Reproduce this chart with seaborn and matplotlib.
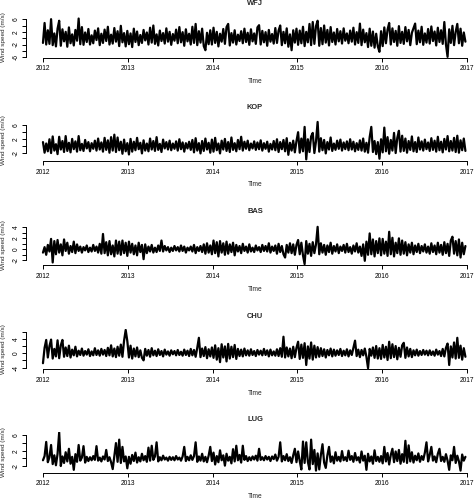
import numpy as np
import pandas as pd
import matplotlib
matplotlib.use("Agg")
import matplotlib.pyplot as plt
import seaborn as sns

# ── Styling ─────────────────────────────────
sns.set_style("ticks")
plt.rcParams.update({
    "font.family": ["Liberation Sans", "DejaVu Sans"],
    "font.size": 4.6,
    "axes.linewidth": 0.7,
    "xtick.major.width": 0.7,
    "ytick.major.width": 0.7,
    "xtick.major.size": 2.6,
    "ytick.major.size": 2.6,
    "xtick.color": "black",
    "ytick.color": "black",
    "axes.edgecolor": "black",
})

# ── Data: weekly wind speed anomalies (m/s) ──
wfj_2012 = [-1.5, 4.8, -2.0, 2.5, -1.8, 6.0, -2.2, 1.5, -2.6, 3.0, 5.5, -2.4, 2.8, -1.0, 2.0, -2.7, 3.4, -1.6, 1.2, -2.3, 2.6, -0.8, 6.2, -1.9, 3.5, -2.1, 1.8, -1.2, 2.9, -2.0, 0.9, -1.6, 2.4, -0.6, 3.1, -2.2, 1.4, -1.5, 2.7, -0.9, 3.6, -2.0, 1.1, -1.7, 3.2, -1.1, 2.2, -2.5, 3.9, -1.3, 1.6, -2.6]
wfj_2013 = [2.3, -1.9, 1.5, -2.8, 3.0, -1.2, 2.1, -2.2, 1.0, -1.5, 2.6, -0.7, 1.8, -2.0, 3.3, -1.4, 4.0, -1.8, 1.2, -2.3, 2.4, -0.9, 1.6, -1.7, 3.1, -1.1, 2.0, -2.1, 1.3, -0.8, 2.7, -1.6, 3.5, -1.3, 1.9, -2.4, 2.8, -1.0, 1.4, -2.0, 3.6, -1.5, 4.5, -2.2, 2.2, -1.4, 3.0, -2.5, -3.8, 1.7, -1.9, 2.5]
wfj_2014 = [-2.0, 3.3, -1.5, 2.0, -2.6, 1.4, -1.1, 2.9, -1.8, 3.5, 4.5, -2.3, 1.6, -1.4, 2.5, -2.0, 1.1, -0.9, 2.2, -1.6, 3.0, -1.2, 1.7, -2.1, 2.8, -1.0, 1.5, -1.8, 3.4, 4.1, -2.0, 2.3, -1.3, 1.9, -2.4, 2.6, -1.1, 1.3, -1.7, 3.2, -1.5, 2.4, 4.0, -2.2, 2.0, -1.6, 3.1, -2.7, 1.2, -3.8, 2.5, -1.4]
wfj_2015 = [3.0, -2.1, 2.4, -1.6, 3.6, -2.5, 2.0, -1.3, 4.5, -2.2, 5.1, -1.8, 3.8, 5.5, -2.4, 3.2, -1.9, 4.0, -1.4, 2.6, -2.3, 3.5, -1.2, 1.8, -2.0, 2.9, -1.0, 2.2, -1.7, 3.1, -0.8, 1.5, -1.6, 2.4, -1.1, 3.3, -2.0, 1.9, -1.5, 4.6, -2.2, 2.7, -1.3, 1.6, -2.8, 3.0, -2.4, 2.1, -3.0, 1.4, -2.6, -4.3]
wfj_2016 = [2.2, -2.5, 3.4, -1.6, 2.7, 4.8, -2.0, 3.1, -1.2, 2.3, -2.4, 3.8, -1.5, 2.0, -1.8, 3.5, -1.0, 2.6, -2.2, 1.7, 3.2, 4.6, -1.9, 2.4, -1.3, 3.6, -2.1, 1.5, -1.4, 2.9, -1.7, 3.7, -0.9, 2.1, -2.3, 3.3, -1.2, 2.5, -1.8, 5.1, -2.0, -5.9, 2.8, -1.5, 3.9, -2.2, 2.0, 4.5, -1.6, 3.0, -2.4, 1.8, -1.1]

kop_2012 = [1.2, -1.8, 0.8, -1.4, 2.0, -1.9, 2.8, -1.2, 0.6, -2.2, 2.7, -0.9, 1.5, -1.6, 2.9, -1.3, 1.0, -1.7, 2.1, -0.8, 1.4, -1.5, 2.9, -1.1, 0.7, -1.3, 1.8, -0.6, 1.2, -1.4, 0.9, -0.7, 1.6, -1.2, 2.2, -0.9, 1.1, -1.5, 2.4, -1.0, 1.7, -1.8, 2.6, -1.2, 3.3, -1.6, 2.5, -1.1, 1.3, -2.1, 1.9, -1.4]
kop_2013 = [0.9, -2.3, 2.1, -1.5, 1.3, -1.1, 2.4, -0.8, 1.0, -2.0, 1.7, -1.2, 0.8, -1.4, 2.2, -0.9, 1.5, -1.3, 2.6, -1.0, 0.7, -1.6, 1.9, -0.6, 1.2, -0.9, 1.6, -1.1, 0.8, -0.7, 1.4, -1.2, 2.0, -0.8, 1.1, -1.5, 0.9, -0.6, 1.3, -1.0, 1.8, -1.7, 2.3, -1.2, 0.9, -2.0, 1.5, -1.3, 2.2, -0.9, 1.0, -1.8]
kop_2014 = [1.9, -1.5, 2.4, -1.1, 0.8, -2.0, 1.6, -0.9, 2.1, -1.3, 1.2, -1.6, 2.5, -1.0, 0.9, -1.4, 1.8, -0.8, 2.7, -1.2, 1.3, -0.7, 1.6, -1.1, 0.8, -0.6, 1.4, -1.0, 1.1, -0.8, 1.7, -1.2, 0.9, -0.7, 1.3, -1.5, 0.7, -0.9, 1.5, -1.1, 2.0, -1.6, 1.2, -0.8, 1.8, -1.4, 2.3, -2.4, 1.0, -1.2, 1.6, -1.7]
kop_2015 = [1.5, 4.0, -1.8, 2.2, -1.4, 5.5, -3.7, 2.0, -1.6, 2.8, 3.8, -1.9, 1.4, 6.9, -1.5, 2.3, -1.1, 1.8, -2.0, 1.2, -0.9, 2.5, -1.3, 0.8, -1.0, 1.6, -0.7, 1.9, -1.2, 1.1, -0.8, 1.4, -1.1, 2.0, -0.9, 1.3, -1.4, 0.9, -1.0, 1.7, -1.2, 2.2, -1.5, 1.0, -1.8, 2.6, 5.5, -1.6, 1.5, -2.2, 1.2, -3.5]
kop_2016 = [2.0, -1.7, 5.3, -1.4, 2.6, -2.1, 1.8, -1.2, 3.8, -1.9, 2.4, 4.4, -1.5, 3.0, -1.3, 2.2, -1.8, 1.5, -1.0, 2.8, -1.4, 1.2, -1.6, 2.5, -0.9, 1.4, -1.2, 1.9, -0.8, 1.1, -1.3, 2.3, -1.0, 1.6, -1.5, 2.7, -1.1, 1.3, -1.7, 2.1, -0.9, 2.9, -1.4, 1.5, -1.2, 2.4, -1.6, 3.0, -1.8, 1.7, -1.1, 2.2, -1.3]

bas_2012 = [-0.6, 0.4, -1.0, 0.8, -0.4, 1.9, -2.4, 1.5, -0.9, 1.7, -0.6, 0.9, -1.1, 1.8, -0.3, 1.2, -0.8, 0.6, -0.5, 1.4, -0.7, 0.9, -0.3, 0.5, -0.6, 0.4, -0.2, 0.7, -0.5, 0.3, -0.4, 0.8, -0.3, 0.5, -0.6, 1.0, -0.8, 2.8, -0.7, 1.3, -1.1, 1.5, -0.9, 0.7, -1.3, 1.6, -0.8, 1.4, -1.0, 1.6, -0.7, 1.2]
bas_2013 = [-1.2, 1.4, -0.6, 1.0, -0.9, 0.7, -1.1, 1.2, -0.5, 0.8, -1.8, 0.9, -0.7, 0.5, -0.4, 0.8, -0.6, 0.3, -0.5, 0.7, -0.3, 1.6, -0.4, 0.6, -0.2, 0.4, -0.5, 0.3, -0.3, 0.6, -0.2, 0.4, -0.4, 0.7, -0.3, 0.5, -0.6, 0.3, -0.2, 0.5, -0.4, 0.8, -0.7, 0.4, -0.3, 0.6, -0.5, 0.9, -0.8, 1.1, -0.6, 0.7]
bas_2014 = [-0.9, 1.6, -0.7, 1.3, -1.3, 1.5, -0.6, 1.1, -1.0, 1.4, -0.8, 0.9, -0.5, 1.2, -1.1, 0.8, -0.4, 0.6, -0.7, 1.0, -0.3, 0.5, -0.6, 0.9, -0.4, 0.3, -0.5, 0.7, -0.2, 0.4, -0.5, 0.8, -0.3, 0.6, -0.4, 1.1, -0.6, 0.5, -0.3, 0.7, -0.8, 1.0, -0.5, 0.6, -0.9, -1.5, 0.8, -0.6, 1.1, -0.7, 0.9, -1.0]
bas_2015 = [0.8, 1.7, -0.9, 1.2, -1.1, -2.7, 1.5, -0.8, 1.0, -1.2, 1.3, -0.7, 0.9, 4.1, -0.9, 1.1, -0.6, 0.8, -1.0, 0.7, -0.5, 1.2, -0.8, 0.6, -0.4, 0.9, -0.7, 0.5, -0.3, 0.8, -0.6, 1.0, -0.5, 0.4, -0.8, 0.7, -0.4, 1.1, -0.6, 0.5, -1.2, 0.9, -2.1, 1.4, -1.0, 2.9, -0.9, 1.8, -1.3, 1.5, -0.7, 2.0]
bas_2016 = [-1.1, 1.9, -0.8, 1.4, -1.2, 3.2, -0.9, 2.1, -1.3, 1.2, -0.7, 2.0, -1.0, 1.6, -0.8, 1.3, -1.1, 0.9, -0.6, 1.2, -0.9, 0.7, -0.5, 1.0, -0.7, 0.6, -0.4, 0.9, -0.6, 0.5, -0.8, 1.1, -0.5, 0.7, -0.9, 1.2, -0.6, 0.8, -1.0, 1.3, -0.7, 1.0, -1.2, 1.6, 2.3, -0.8, 1.5, -1.1, 1.8, -1.5, 1.2, -0.9, 0.6]

chu_2012 = [-2.8, 1.5, 3.7, -1.2, 2.0, 3.8, -1.5, 1.2, -0.9, 3.6, -1.4, 2.2, 3.7, -1.0, 1.6, -0.8, 2.1, -1.2, 1.0, -0.6, 1.8, -0.9, 0.7, -0.5, 1.3, -0.7, 0.6, -0.4, 1.1, -0.8, 0.5, -0.6, 1.4, -0.5, 0.8, -0.7, 1.2, -0.4, 0.9, -0.8, 1.5, -0.6, 2.2, -0.9, 1.3, -1.1, 1.8, -0.7, 2.4, -1.0, 3.5, 6.5]
chu_2013 = [3.4, -1.2, 2.1, -1.5, 1.3, -0.9, 1.6, -1.1, 0.8, -1.3, -2.0, 1.2, -0.7, 0.9, -1.0, 1.4, -0.6, 0.7, -0.8, 1.1, -0.5, 0.6, -0.9, 1.0, -0.4, 0.5, -0.7, 0.8, -0.3, 0.6, -0.6, 0.9, -0.5, 0.4, -0.7, 1.0, -0.5, 0.7, -0.8, 1.2, -0.6, 0.9, -1.0, 1.5, 4.3, -1.1, 1.3, -0.8, 1.7, -1.4, 1.1, -0.9]
chu_2014 = [1.6, -1.3, 2.2, -1.8, 1.4, -2.5, 2.5, -1.2, 1.9, -2.3, 2.6, -1.5, 1.8, -1.1, 2.3, -1.6, 1.2, -0.8, 1.0, -0.9, 1.3, -0.6, 0.8, -0.7, 1.1, -0.5, 0.6, -0.8, 0.9, -0.4, 0.7, -0.6, 1.2, -0.5, 0.8, -0.9, 1.0, -0.6, 0.5, -0.7, 1.1, -0.8, 1.4, -1.0, 4.6, -1.2, 1.6, -0.9, 1.3, -1.4, 1.8, -1.1]
chu_2015 = [1.5, 3.2, -1.6, 2.4, -1.3, 2.8, -3.3, 1.9, -1.5, 3.0, -1.8, 2.1, -1.2, 1.7, -1.0, 1.4, -0.8, 1.1, -1.2, 0.9, -0.6, 1.3, -0.9, 1.0, -0.7, 0.8, -0.5, 1.2, -0.8, 0.7, -0.6, 1.1, -0.9, 0.8, -0.5, 1.5, 3.5, -0.8, 1.0, -1.1, 0.9, -0.6, 1.3, -1.0, -4.2, 1.2, -0.7, 1.6, -1.3, 2.0, -1.5, 1.4]
chu_2016 = [-1.6, 2.3, -1.2, 1.8, -1.9, 3.2, -1.4, 2.5, -1.1, 2.0, -1.7, 1.5, -1.0, 2.2, 2.9, -1.3, 1.6, -0.9, 1.2, -1.1, 0.8, -0.6, 1.0, -0.7, 0.6, -0.5, 0.9, -0.4, 0.7, -0.6, 0.8, -0.5, 0.5, -0.7, 1.0, -0.4, 0.6, -0.8, 1.2, -0.9, 1.5, 2.7, -3.3, 1.9, -1.2, 3.0, -1.5, 4.3, -1.3, 2.1, -1.8, 1.4, -1.0]

lug_2012 = [-0.5, 0.6, 4.3, -1.0, 0.3, 3.5, -1.5, 0.8, -1.8, 1.2, 6.8, -2.0, 0.5, -1.2, 1.6, -0.8, 2.5, -1.4, 0.4, -3.0, 1.1, -0.9, 3.5, -0.6, 0.2, 3.2, -1.1, 0.4, -0.7, 0.3, -0.5, 0.6, -0.4, 3.2, -0.6, 0.2, -0.8, 0.5, -0.3, 2.2, -0.7, 0.3, -1.0, -2.8, 0.6, 4.0, -0.9, 4.9, -1.2, 3.0, -0.8, 0.5]
lug_2013 = [-2.6, 0.4, -1.4, 0.9, -0.7, 1.5, -1.1, 0.3, -0.8, 1.2, -0.5, 0.6, -0.9, 2.8, -0.6, 3.3, -0.4, 0.5, 4.2, -0.8, 0.3, -0.5, 0.7, -0.3, 0.2, -0.6, 0.4, -0.4, 0.3, -0.5, 0.6, -0.3, 0.2, -0.6, 0.5, 3.0, -0.7, 0.4, -0.5, 0.8, -0.4, 0.6, 4.2, -0.9, 0.5, -0.6, 1.2, -0.8, 0.4, -1.0, 0.7, 3.0]
lug_2014 = [-0.7, 1.5, -1.6, 0.6, -1.0, 2.1, -0.5, 0.8, -1.9, 1.2, -0.6, 0.4, -1.3, 2.4, -0.8, 3.3, -0.5, 0.9, -1.1, 3.3, -0.4, 0.6, -0.7, 0.3, -0.5, 0.5, -0.3, 0.7, -0.6, 2.5, -0.4, 0.3, -0.5, 0.6, -0.3, 0.4, -0.7, 0.5, -0.2, 1.0, -0.6, 0.4, 4.2, -0.8, 0.6, -0.5, 1.1, -0.7, 0.3, -1.2, 0.8, 2.5]
lug_2015 = [-1.0, 1.8, -0.7, -2.9, 4.4, -1.2, 4.2, -0.9, -2.9, 4.9, -1.5, 2.2, -3.2, 1.3, -2.9, 0.9, 3.7, -1.1, -2.5, 0.8, 3.0, -0.9, 0.5, -1.3, 1.6, -0.6, 0.4, -0.8, 1.9, -0.5, 0.3, -0.7, 2.0, -0.4, 0.6, -0.9, 1.4, -0.5, 0.3, -1.1, 1.8, -0.6, 0.7, -3.0, 1.2, -0.8, 0.5, -1.4, 2.1, -0.7, 0.4, -0.9]
lug_2016 = [0.6, -1.3, 3.0, -0.8, 1.4, -1.6, 0.9, 2.5, -1.0, 1.8, -0.7, 2.2, -1.4, 1.1, -0.9, 4.6, -1.2, 3.4, -0.8, 1.6, -1.1, 0.7, -0.5, 1.3, -0.9, 0.6, -0.4, 1.5, 4.2, -0.8, 0.9, 3.0, -0.6, 0.5, -1.0, 1.2, 2.5, -0.7, 0.4, -0.9, 1.1, -0.6, -3.0, 0.8, -0.5, 3.0, -1.2, 0.7, -0.8, -3.2, 1.0, -0.6, 0.4]

stations = ["WFJ", "KOP", "BAS", "CHU", "LUG"]
series = {
    "WFJ": wfj_2012 + wfj_2013 + wfj_2014 + wfj_2015 + wfj_2016,
    "KOP": kop_2012 + kop_2013 + kop_2014 + kop_2015 + kop_2016,
    "BAS": bas_2012 + bas_2013 + bas_2014 + bas_2015 + bas_2016,
    "CHU": chu_2012 + chu_2013 + chu_2014 + chu_2015 + chu_2016,
    "LUG": lug_2012 + lug_2013 + lug_2014 + lug_2015 + lug_2016,
}
year_ticks = [2012, 2013, 2014, 2015, 2016, 2017]

# ── Layout (pixel boxes of each plot region, R-style axes) ──
W, H = 474, 500
LEFT, RIGHT = 26, 484
panels = {
    #        top    bottom  ylim            ticks                labelled ticks
    "WFJ": (16.0, 57.5, (-6.1, 7.0), [-6, -4, -2, 0, 2, 4, 6], [-6, -2, 2, 6]),
    "KOP": (120.0, 161.0, (-4.15, 7.45), [-2, 0, 2, 4, 6], [-2, 2, 6]),
    "BAS": (224.1, 265.2, (-2.9, 4.6), [-2, -1, 0, 1, 2, 3, 4], [-2, 0, 2, 4]),
    "CHU": (328.5, 369.3, (-4.5, 6.9), [-4, -2, 0, 2, 4, 6], [-4, 0, 4]),
    "LUG": (431.8, 472.7, (-3.75, 6.95), [-2, 0, 2, 4, 6], [-2, 2, 6]),
}


def weekly_years(n):
    dates = pd.date_range("2012-01-01", periods=n, freq="7D")
    days = np.where(dates.is_leap_year, 366, 365)
    return dates.year + (dates.dayofyear - 1) / days


fig = plt.figure(figsize=(W / 100, H / 100), dpi=100)

for name in stations:
    top, bot, ylim, ticks, shown = panels[name]
    ax = fig.add_axes([LEFT / W, 1 - bot / H, (RIGHT - LEFT) / W, (bot - top) / H])
    df = pd.DataFrame({"Time": weekly_years(len(series[name])), "Wind": series[name]})
    sns.lineplot(data=df, x="Time", y="Wind", ax=ax, color="black",
                 linewidth=1.6, estimator=None, sort=False)

    ax.set_xlim(2011.8, 2017.2)
    ax.set_ylim(*ylim)
    ax.set_xticks(year_ticks)
    ax.set_xticklabels([str(y) for y in year_ticks])
    ax.set_yticks(ticks)
    ax.set_yticklabels([str(t) if t in shown else "" for t in ticks],
                       rotation=90, va="center")
    ax.tick_params(axis="x", pad=3.0, labelsize=4.8)
    ax.tick_params(axis="y", pad=2.0, labelsize=4.8)
    ax.set_xlabel("")
    ax.set_ylabel("")

    sns.despine(ax=ax)
    ax.spines["bottom"].set_bounds(2012, 2017)
    ax.spines["left"].set_bounds(ticks[0], ticks[-1])

    xc = (LEFT + RIGHT) / 2 / W
    fig.text(xc, 1 - (top - 12.5) / H, name, ha="center", va="center",
             fontsize=5.4, fontweight="bold")
    fig.text(xc, 1 - (bot + 24) / H, "Time", ha="center", va="center", fontsize=4.8)
    fig.text(4 / W, 1 - (top + bot) / 2 / H, "Wind speed (m/s)", ha="center",
             va="center", rotation=90, fontsize=4.6)

fig.savefig("out.png", dpi=100)
